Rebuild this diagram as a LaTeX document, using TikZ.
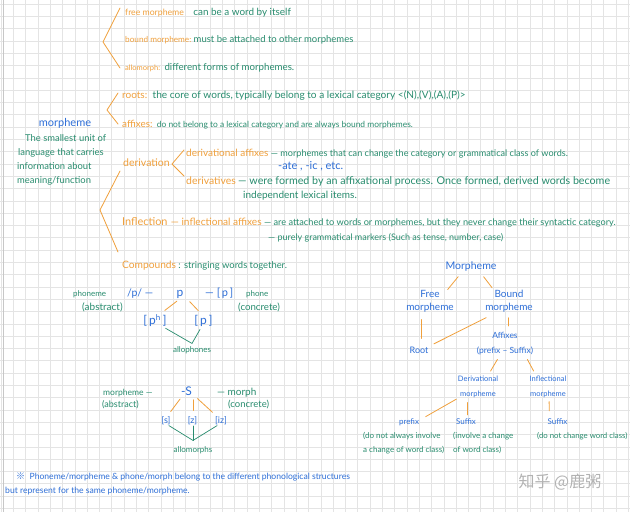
\documentclass[tikz,border=0pt]{standalone}
\usepackage{fontspec}
\setmainfont{Lato}
\newfontfamily\cjkfont{Noto Sans CJK SC}
\usetikzlibrary{positioning}
\definecolor{penorange}{RGB}{240,160,60}
\definecolor{pengreen}{RGB}{40,140,110}
\definecolor{penblue}{RGB}{45,110,215}
\definecolor{gridgray}{RGB}{228,228,228}
\newcommand\fsz[1]{\fontsize{#1}{#1}\selectfont}
\tikzset{
  otxt/.style={text=penorange, inner sep=0pt, font=\fsz{10}},
  gtxt/.style={text=pengreen, inner sep=0pt, font=\fsz{9.5}},
  btxt/.style={text=penblue, inner sep=0pt, font=\fsz{8}},
  oline/.style={draw=penorange, line width=0.8pt, line cap=round, line join=round},
  gline/.style={draw=pengreen, line width=0.7pt, line cap=round},
}
\begin{document}
\begin{tikzpicture}[x=1pt, y=-1pt]
\fill[white] (0,0) rectangle (630,512);
\useasboundingbox (0,0) rectangle (630,512);
% grid paper
\foreach \i in {0,...,51}
  \draw[gridgray, line width=0.5pt] ({1+12.3*\i},0) -- ({1+12.3*\i},512);
\foreach \j in {0,...,41}
  \draw[gridgray, line width=0.5pt] (0,{4+12.3*\j}) -- (630,{4+12.3*\j});
\draw[black!22, line width=0.8pt] (3,0) -- (3,512);

% kinds of morphemes
\draw[oline] (120,8) -- (103,42) -- (120,68);
\node[otxt, font=\fsz{8.7}, anchor=mid west] (free) at (125,13) {free morpheme};
\node[gtxt, font=\fsz{9.9}, base right=9pt of free] (freedef) {can be a word by itself};
\node[otxt, font=\fsz{8.2}, anchor=mid west] (bound) at (125,40) {bound morpheme:};
\node[gtxt, base right=2pt of bound] (bounddef) {must be attached to other morphemes};
\node[otxt, font=\fsz{7.5}, anchor=mid west] (allomorph) at (125,68) {allomorph:};
\node[gtxt, font=\fsz{9.7}, base right=4pt of allomorph] (allodef) {different forms of morphemes.};

% roots and affixes
\draw[oline] (118,93) -- (107,110) -- (118,124);
\node[otxt, anchor=mid west] (roots) at (122,96) {roots:};
\node[gtxt, font=\fsz{10.1}, base right=5pt of roots] (rootsdef) {the core of words, typically belong to a lexical category <(N),(V),(A),(P)>};
\node[otxt, font=\fsz{9.9}, anchor=mid west] (affixes) at (122,125) {affixes:};
\node[gtxt, font=\fsz{8.4}, base right=4pt of affixes] (affixesdef) {do not belong to a lexical category and are always bound morphemes.};

% the word itself
\node[btxt, font=\fsz{11}, anchor=mid] (title) at (65,124) {morpheme};
\node[gtxt, font=\fsz{9.4}, anchor=mid west] (def1) at (25,139) {The smallest unit of};
\node[gtxt, font=\fsz{9.4}, anchor=mid west] (def2) at (18,153) {language that carries};
\node[gtxt, font=\fsz{9.4}, anchor=mid west] (def3) at (17,167) {information about};
\node[gtxt, font=\fsz{9.4}, anchor=mid west] (def4) at (17,181) {meaning/function};

% word formation
\draw[oline] (120,171) -- (100,210) -- (118,252);
\node[otxt, font=\fsz{10.5}, anchor=mid west] (derivation) at (123,164) {derivation};
\draw[oline] (184,150) -- (172,164) -- (184,176);
\node[otxt, anchor=mid west] (daffix) at (186,154) {derivational affixes};
\node[gtxt, font=\fsz{9.1}, base right=2pt of daffix] (daffixdef) {— morphemes that can change the category or grammatical class of words.};
\node[btxt, font=\fsz{11}, anchor=mid west] (suffixes) at (278,167) {-ate , -ic , etc.};
\node[otxt, font=\fsz{10.4}, anchor=mid west] (derivatives) at (186,182) {derivatives};
\node[gtxt, font=\fsz{10.7}, base right=2pt of derivatives] (derivdef) {— were formed by an affixational process. Once formed, derived words become};
\node[gtxt, font=\fsz{10}, anchor=mid west] (derivdef2) at (243,196) {independent lexical items.};
\node[otxt, font=\fsz{10.9}, anchor=mid west] (inflection) at (122,223) {Inflection};
\node[otxt, font=\fsz{10.1}, base right=3pt of inflection] (iaffix) {— inflectional affixes};
\node[gtxt, font=\fsz{9.2}, base right=2pt of iaffix] (iaffixdef) {— are attached to words or morphemes, but they never change their syntactic category.};
\node[gtxt, font=\fsz{9}, anchor=mid west] (iaffixdef2) at (268,238) {— purely grammatical markers (Such as tense, number, case)};
\node[otxt, font=\fsz{10.2}, anchor=mid west] (compounds) at (122,266) {Compounds};
\node[gtxt, font=\fsz{9.4}, base right=2pt of compounds] (compdef) {: stringing words together.};

% phoneme and allophones
\node[gtxt, font=\fsz{8}, anchor=mid west] (phoneme) at (73,294) {phoneme};
\node[gtxt, font=\fsz{10}, anchor=mid west] (abstr1) at (82,308) {(abstract)};
\node[btxt, font=\fsz{10.5}, anchor=mid west] (slashp) at (127,294) {/p/ —};
\node[btxt, font=\fsz{12}, anchor=mid] (p) at (180,294) {p};
\node[btxt, font=\fsz{11}, anchor=mid west] (brp) at (205,294) {— [\,p\,]};
\node[gtxt, font=\fsz{8}, anchor=mid west] (phone) at (246,294) {phone};
\node[gtxt, font=\fsz{9.7}, anchor=mid west] (concr1) at (238,308) {(concrete)};
\node[btxt, font=\fsz{12}, anchor=mid] (ph) at (155,322) {[\,p\textsuperscript{h}\,]};
\node[btxt, font=\fsz{12}, anchor=mid] (pp) at (203.5,322) {[\,p\,]};
\node[gtxt, font=\fsz{8}, anchor=mid] (allophones) at (192,350) {allophones};
\coordinate (phmeet) at ([yshift=3pt]allophones.north);
\draw[oline, shorten <=4pt, shorten >=6pt] (p.south) -- ([xshift=5pt]ph.north);
\draw[oline, shorten <=4pt, shorten >=6pt] ([xshift=7pt]p.south) -- ([xshift=-1pt]pp.north);
\draw[gline, shorten <=3pt] ([xshift=8pt]ph.south) -- (phmeet);
\draw[gline, shorten <=3pt] ([xshift=-2pt]pp.south) -- (phmeet);

% morpheme and allomorphs
\node[gtxt, font=\fsz{8.5}, anchor=mid west] (morpheme) at (103,393) {morpheme —};
\node[gtxt, font=\fsz{9}, anchor=mid west] (abstr2) at (102,405) {(abstract)};
\node[btxt, font=\fsz{12}, anchor=mid] (s) at (186.5,393) {-S};
\node[gtxt, font=\fsz{10}, anchor=mid west] (morph) at (217,393) {— morph};
\node[gtxt, font=\fsz{9.5}, anchor=mid west] (concr2) at (228,405) {(concrete)};
\node[btxt, font=\fsz{9}, anchor=mid] (bs) at (166,421) {[s]};
\node[btxt, font=\fsz{9}, anchor=mid] (bz) at (192.5,421) {[z]};
\node[btxt, font=\fsz{9}, anchor=mid] (biz) at (221,421) {[iz]};
\node[gtxt, font=\fsz{8}, anchor=mid] (allomorphs) at (193,450) {allomorphs};
\coordinate (ammeet) at ([yshift=6pt]allomorphs.north);
\draw[oline, shorten <=4pt, shorten >=6pt] ([xshift=-4pt]s.south) -- ([xshift=1pt]bs.north);
\draw[oline, shorten <=4pt, shorten >=6pt] ([xshift=6.5pt]s.south) -- ([xshift=0.5pt]bz.north);
\draw[oline, shorten <=4pt, shorten >=6pt] ([xshift=8pt]s.south) -- ([xshift=-4pt]biz.north);
\draw[gline, shorten <=1pt] ([xshift=2pt]bs.south) -- (ammeet);
\draw[gline, shorten <=1pt] ([xshift=0.5pt]bz.south) -- (ammeet);
\draw[gline, shorten <=1pt] ([xshift=-3pt]biz.south) -- (ammeet);

% note
\node[btxt, font=\cjkfont\fsz{9}, anchor=mid west] (star) at (16,477) {※};
\node[btxt, font=\fsz{8.6}, base right=4pt of star] (note1) {Phoneme/morpheme \& phone/morph belong to the different phonological structures};
\node[btxt, font=\fsz{8.6}, anchor=mid west] (note2) at (5,491) {but represent for the same phoneme/morpheme.};

% tree of morphemes
\node[btxt, font=\fsz{10.5}, anchor=center] (Mor) at (471,267) {Morpheme};
\node[btxt, font=\fontsize{10}{13}\selectfont, align=center] (Free) at (430,301.5) {Free\\morpheme};
\node[btxt, font=\fontsize{10}{13}\selectfont, align=center] (Bound) at (509,301.5) {Bound\\morpheme};
\node[btxt, font=\fsz{9}] (Root) at (419,350) {Root};
\node[btxt, font=\fontsize{8.5}{15}\selectfont, align=center] (Aff) at (505,343.5) {Affixes\\(prefix – Suffix)};
\node[btxt, font=\fontsize{7.5}{15}\selectfont, align=center] (Der) at (478,386.5) {Derivational\\morpheme};
\node[btxt, font=\fontsize{7.5}{15}\selectfont, align=center] (Inf) at (548,386.5) {Inflectional\\morpheme};
\node[btxt] (prefix) at (409,422) {prefix};
\node[btxt] (suffix) at (466,422) {Suffix};
\node[btxt] (isuffix) at (557.5,422) {Suffix};
\node[gtxt, font=\fontsize{8}{14}\selectfont, align=left, anchor=west] (prefixdef) at (363,443) {(do not always involve\\a change of word class)};
\node[gtxt, font=\fontsize{8}{14}\selectfont, align=left, anchor=west] (suffixdef) at (453,443) {(involve a change\\of word class)};
\node[gtxt, font=\fsz{7.8}, anchor=mid west] (isuffixdef) at (537,436) {(do not change word class)};
\draw[oline, shorten <=6pt, shorten >=1pt] ([xshift=-9pt]Mor.south) -- ([xshift=17pt]Free.north);
\draw[oline, shorten <=6pt, shorten >=3pt] ([xshift=9pt]Mor.south) -- ([xshift=-15pt]Bound.north);
\draw[oline, shorten <=7pt, shorten >=8pt] ([xshift=-9pt]Free.south) -- ([xshift=2pt]Root.north);
\draw[oline, shorten <=11pt, shorten >=6pt] ([xshift=-13pt]Bound.south) -- (Root.north east);
\draw[oline, shorten <=5pt, shorten >=6pt] ([xshift=-1pt]Bound.south) -- ([xshift=3pt]Aff.north);
\draw[oline, shorten <=5pt, shorten >=5pt] ([xshift=-5pt]Aff.south) -- ([xshift=10pt]Der.north);
\draw[oline, shorten <=5pt, shorten >=5pt] ([xshift=20pt]Aff.south) -- ([xshift=-12pt]Inf.north);
\draw[oline, shorten <=3pt, shorten >=3pt] ([xshift=-19pt]Der.south) -- ([xshift=14pt]prefix.north);
\draw[oline, shorten <=5pt, shorten >=4pt] ([xshift=-11pt]Der.south) -- ([xshift=1pt]suffix.north);
\draw[oline, shorten <=4pt, shorten >=8pt] ([xshift=1pt]Inf.south) -- ([xshift=-8pt]isuffix.north);

% watermark
\node[text=black!30, font=\cjkfont\fsz{16}, anchor=mid west] (mark) at (515,485) {知乎 @鹿粥};
\end{tikzpicture}
\end{document}
